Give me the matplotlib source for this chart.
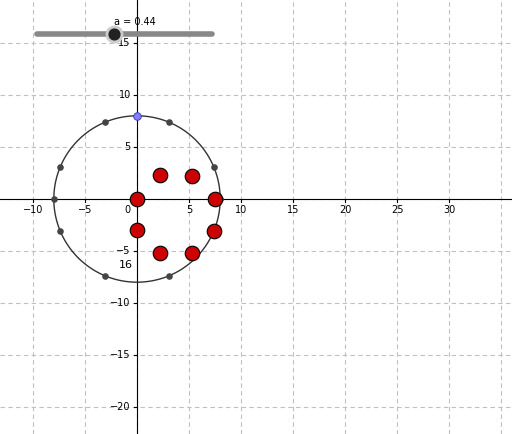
import numpy as np
import matplotlib.pyplot as plt

red_x = [0, 2.2, 5.3, 7.5, 7.4, 5.3, 2.2, 0]
red_y = [0, 2.3, 2.2, 0, -3.1, -5.2, -5.2, -3.0]
radius = 8
small_angles_deg = [112.5, 67.5, 157.5, 22.5, 180, -157.5, -112.5, -67.5, 0, -22.5]
slider_a = 0.44
xticks = [-10, -5, 5, 10, 15, 20, 25, 30]
yticks = [-20, -15, -10, -5, 5, 10, 15]

s = 10.4
fig = plt.figure(figsize=(5.12, 4.34), dpi=100)
ax = fig.add_axes([0, 0, 1, 1])
ax.set_xlim(-137 / s, (512 - 137) / s)
ax.set_ylim(-(434 - 199) / s, 199 / s)
ax.set_xticks(np.arange(-10, 40, 5))
ax.set_yticks(np.arange(-20, 20, 5))
ax.grid(True, color='#c0c0c0', linestyle=(0, (4, 3)), linewidth=0.8)
ax.tick_params(length=0, labelbottom=False, labelleft=False)
for sp in ax.spines.values():
    sp.set_visible(False)
ax.axhline(0, color='black', lw=0.8)
ax.axvline(0, color='black', lw=0.8)
for t in xticks:
    ax.plot([t, t], [0, -0.25], color='black', lw=0.8)
    ax.text(t, -0.6, str(t).replace('-', '−'), ha='center', va='top', fontsize=7)
for t in yticks:
    ax.plot([0, -0.25], [t, t], color='black', lw=0.8)
    ax.text(-0.6, t, str(t).replace('-', '−'), ha='right', va='center', fontsize=7)
ax.text(-0.6, -0.6, '0', ha='right', va='top', fontsize=7)

th = np.linspace(0, 2 * np.pi, 400)
ax.plot(radius * np.cos(th), radius * np.sin(th), color='#333333', lw=1)
ang = np.deg2rad(small_angles_deg)
ax.scatter(radius * np.cos(ang), radius * np.sin(ang), s=14, color='#444444', zorder=3)
ax.scatter([0], [radius], s=30, color='#7f7fff', edgecolor='#3333aa', lw=0.6, zorder=4)
ax.text(-0.4, -6.3, '16', ha='right', va='center', fontsize=8)

ax.scatter(red_x, red_y, s=110, color='#cc0000', edgecolor='black', lw=0.8, zorder=5)

x0, x1 = 37 / s - 137 / s, 212 / s - 137 / s
ys = (199 - 34) / s
ax.plot([x0, x1], [ys, ys], color='#888888', lw=4, solid_capstyle='round', zorder=6)
kx = x0 + slider_a * (x1 - x0)
ax.scatter([kx], [ys], s=140, color='#cccccc', zorder=7)
ax.scatter([kx], [ys], s=60, color='#222222', zorder=8)
ax.text(kx, ys + 0.7, f'a = {slider_a}', ha='left', va='bottom', fontsize=7)

fig.savefig('out.png', dpi=100)
